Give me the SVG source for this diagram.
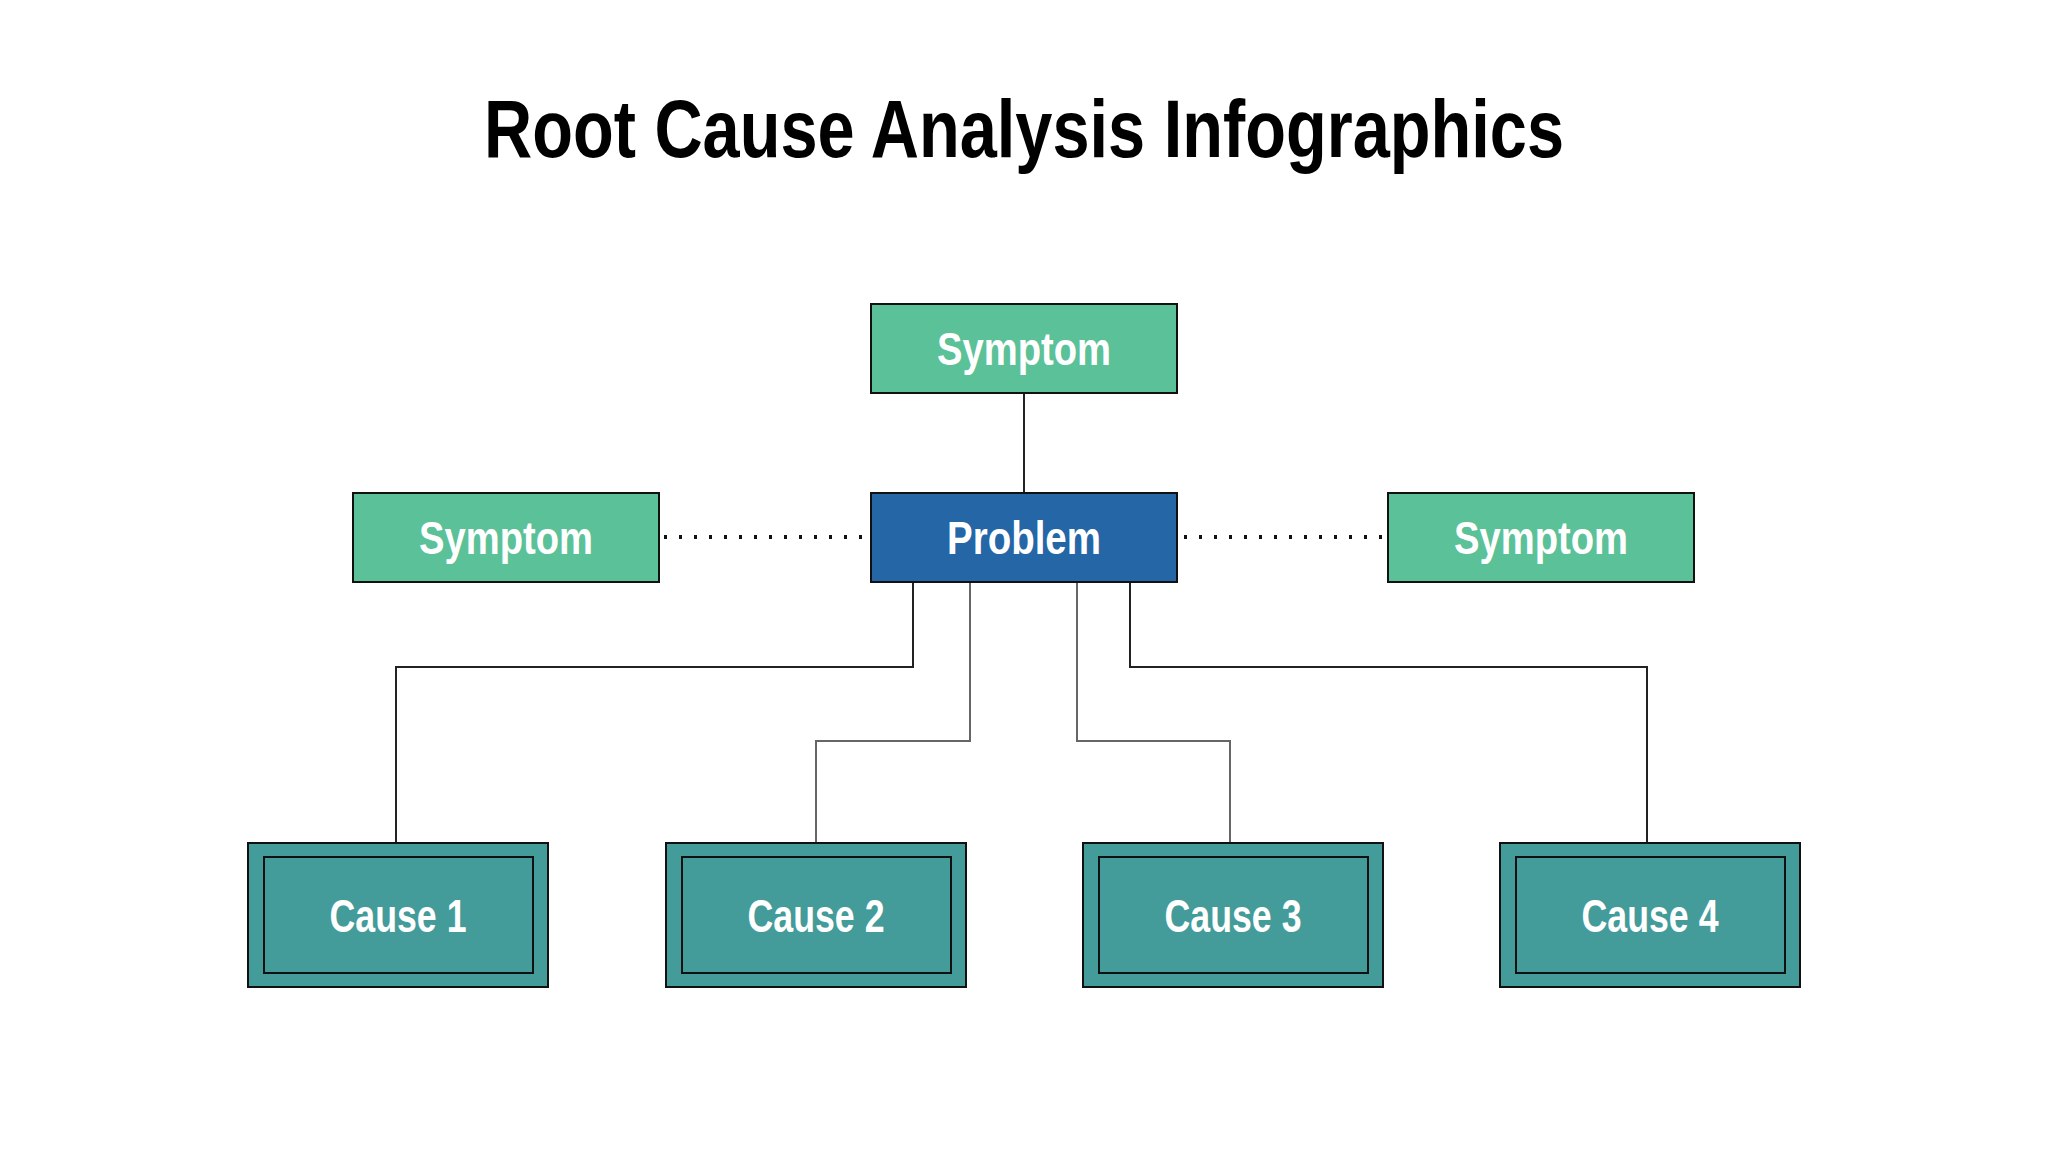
<svg xmlns="http://www.w3.org/2000/svg" width="2048" height="1152" viewBox="0 0 2048 1152">
<style>
.sym{fill:#5BC198;stroke:#111;stroke-width:2}
.prob{fill:#2466A6;stroke:#111;stroke-width:2}
.cause{fill:#439B9A;stroke:#111;stroke-width:2}
.lbl{font-family:"Liberation Sans",Arial,sans-serif;font-weight:bold;font-size:46px;fill:#fff;text-anchor:middle}
.ln{fill:none;stroke:#222;stroke-width:2}
.ln2{fill:none;stroke:#666;stroke-width:2}
.dot{stroke:#111;stroke-width:4;stroke-dasharray:3 12}
</style>
<rect width="2048" height="1152" fill="#fff"/>
<text x="1024" y="157" font-family="Liberation Sans,Arial,sans-serif" font-weight="bold" font-size="82" text-anchor="middle" textLength="1080" lengthAdjust="spacingAndGlyphs" fill="#000">Root Cause Analysis Infographics</text>
<g id="connectors">
<line class="ln" x1="1024" y1="393" x2="1024" y2="492"/>
<line class="dot" x1="664" y1="537" x2="862" y2="537"/>
<line class="dot" x1="1184" y1="537" x2="1384" y2="537"/>
<polyline class="ln" points="913,582 913,667 396,667 396,843"/>
<polyline class="ln2" points="970,582 970,741 816,741 816,843"/>
<polyline class="ln2" points="1077,582 1077,741 1230,741 1230,843"/>
<polyline class="ln" points="1130,582 1130,667 1647,667 1647,843"/>
</g>
<g id="symptom-top"><rect class="sym" x="871" y="304" width="306" height="89"/><text class="lbl" x="1024" y="365" textLength="174" lengthAdjust="spacingAndGlyphs">Symptom</text></g>
<g id="symptom-left"><rect class="sym" x="353" y="493" width="306" height="89"/><text class="lbl" x="506" y="554" textLength="174" lengthAdjust="spacingAndGlyphs">Symptom</text></g>
<g id="symptom-right"><rect class="sym" x="1388" y="493" width="306" height="89"/><text class="lbl" x="1541" y="554" textLength="174" lengthAdjust="spacingAndGlyphs">Symptom</text></g>
<g id="problem"><rect class="prob" x="871" y="493" width="306" height="89"/><text class="lbl" x="1024" y="554" textLength="154" lengthAdjust="spacingAndGlyphs">Problem</text></g>
<g id="cause1"><rect class="cause" x="248" y="843" width="300" height="144"/><rect class="cause" x="264" y="857" width="269" height="116"/><text class="lbl" x="398" y="932" textLength="137" lengthAdjust="spacingAndGlyphs">Cause 1</text></g>
<g id="cause2"><rect class="cause" x="666" y="843" width="300" height="144"/><rect class="cause" x="682" y="857" width="269" height="116"/><text class="lbl" x="816" y="932" textLength="137" lengthAdjust="spacingAndGlyphs">Cause 2</text></g>
<g id="cause3"><rect class="cause" x="1083" y="843" width="300" height="144"/><rect class="cause" x="1099" y="857" width="269" height="116"/><text class="lbl" x="1233" y="932" textLength="137" lengthAdjust="spacingAndGlyphs">Cause 3</text></g>
<g id="cause4"><rect class="cause" x="1500" y="843" width="300" height="144"/><rect class="cause" x="1516" y="857" width="269" height="116"/><text class="lbl" x="1650" y="932" textLength="137" lengthAdjust="spacingAndGlyphs">Cause 4</text></g>
</svg>
